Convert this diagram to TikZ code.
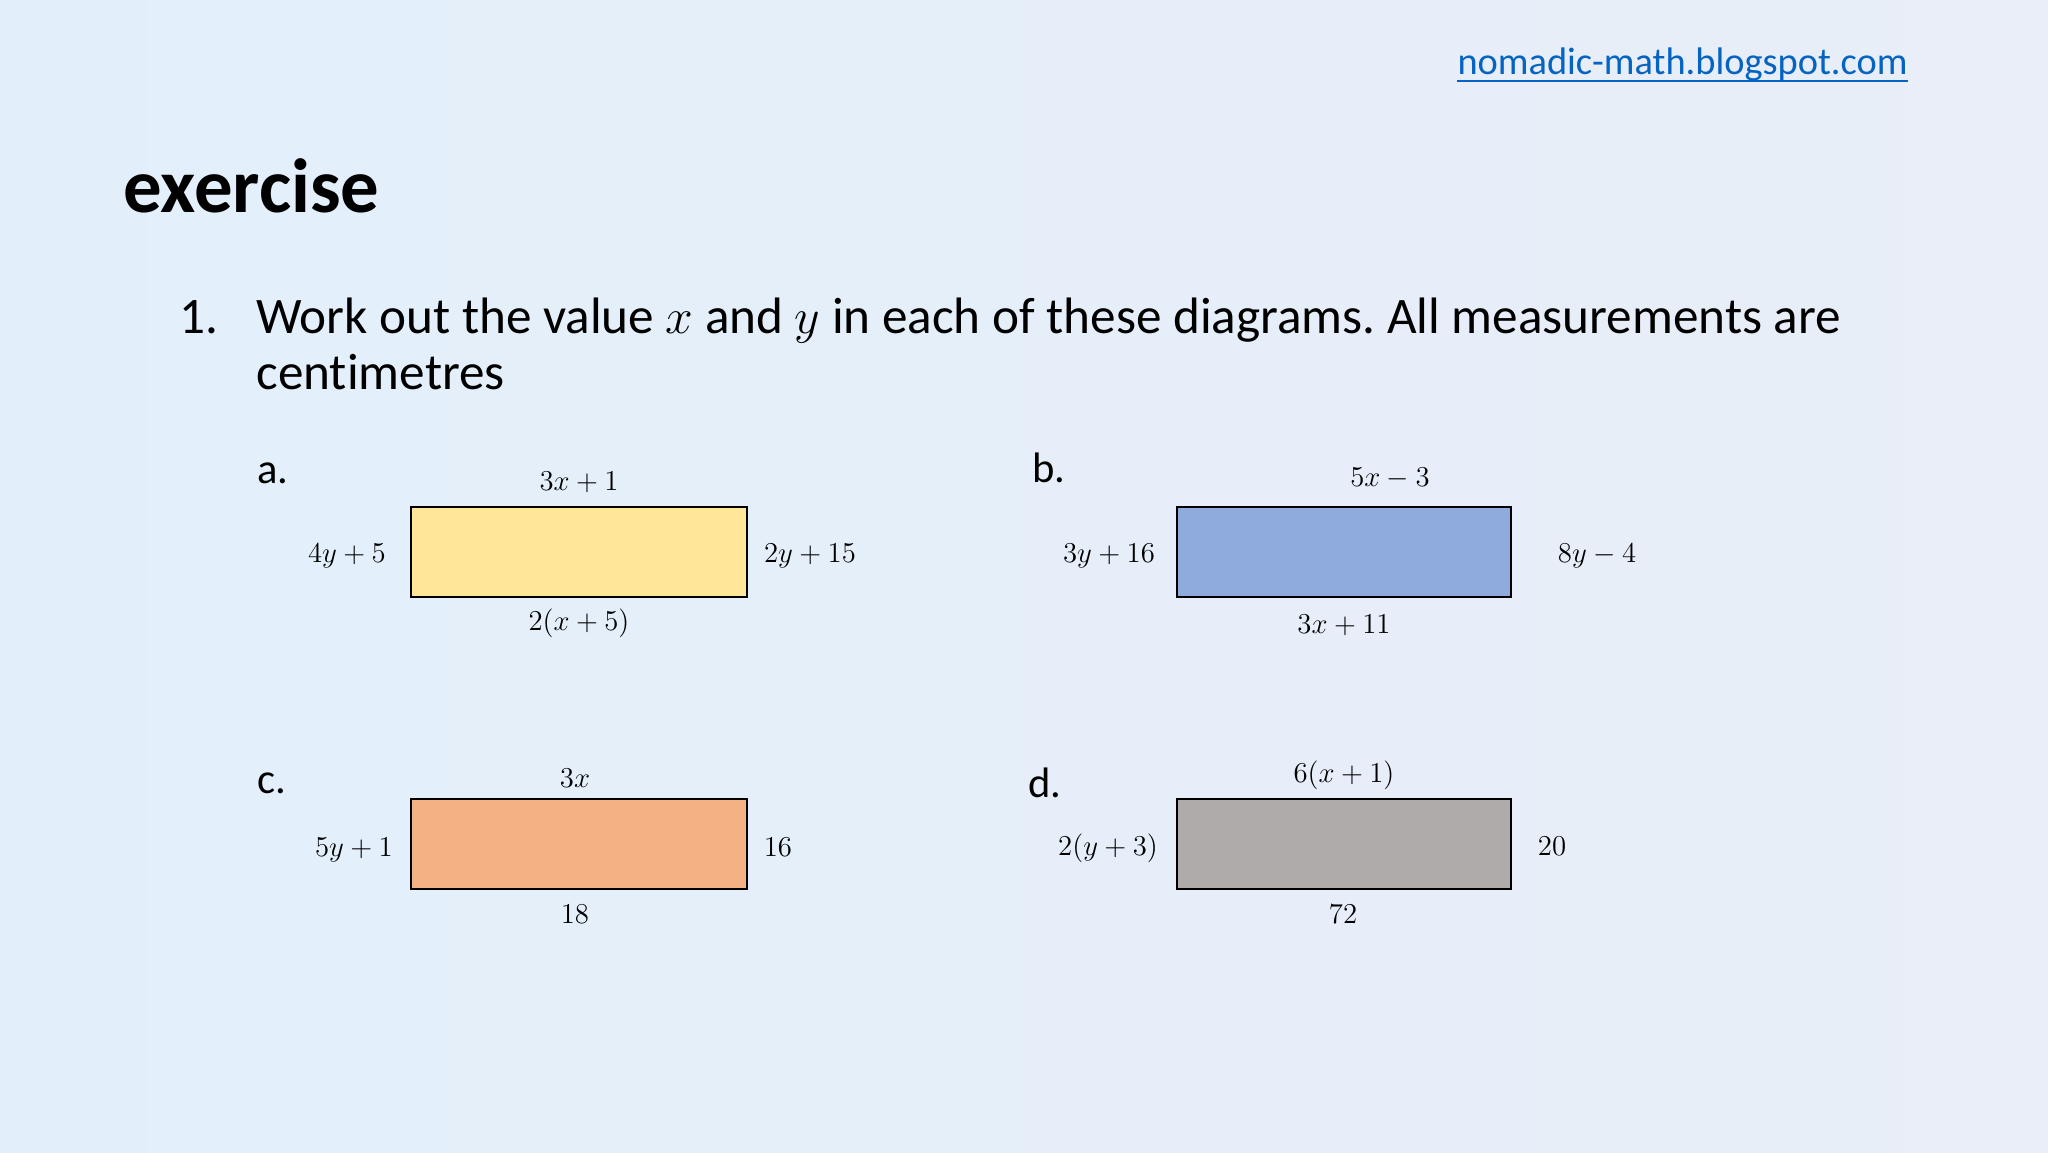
\documentclass[tikz,border=0pt]{standalone}
\usepackage{fontspec}
\setmainfont[Ligatures=NoCommon]{Carlito}
\frenchspacing
\begin{document}
\begin{tikzpicture}[x=0.5pt,y=-0.5pt,
  lbl/.style={font=\fontsize{14}{16}\selectfont, inner sep=0pt},
  part/.style={font=\fontsize{21.3}{25}\selectfont, inner sep=0pt, anchor=base west},
  body/.style={font=\fontsize{25.6}{30}\selectfont, inner sep=0pt, anchor=base west},
  rectbox/.style={draw=black, line width=1pt}]
\definecolor{bgA}{RGB}{226,239,250}
\definecolor{bgB}{RGB}{233,238,248}
\definecolor{urlc}{RGB}{5,99,193}
\definecolor{cya}{RGB}{255,230,153}
\definecolor{cyb}{RGB}{143,170,220}
\definecolor{cyc}{RGB}{244,177,131}
\definecolor{cyd}{RGB}{175,171,171}
\shade[left color=bgA, right color=bgB] (0,0) rectangle (2048,1152);
\useasboundingbox (0,0) rectangle (2048,1152);

\node[font=\fontsize{19.2}{22}\selectfont, text=urlc, inner sep=0pt, anchor=base east] (url) at (1908,74) {nomadic-math.blogspot.com};
\draw[urlc, line width=1.1pt] ([yshift=-3.6pt]url.base west) -- ([yshift=-3.6pt]url.base east);

\node[font=\fontsize{38.4}{44}\selectfont\bfseries, inner sep=0pt, anchor=base west] (title) at (123,212) {exercise};

\node[body] (num) at (179,333) {1.};
\node[body] (l1) at (256,333) {Work out the value $x$ and $y$ in each of these diagrams. All measurements are};
\node[body] (l2) at (256,389) {centimetres};

\node[part] (pa) at (257,483) {a.};
\node[part] (pb) at (1032,482) {b.};
\node[part] (pc) at (257,793) {c.};
\node[part] (pd) at (1028,797) {d.};

\draw[rectbox, fill=cya] (411,507) rectangle (747,597);
\draw[rectbox, fill=cyb] (1177,507) rectangle (1511,597);
\draw[rectbox, fill=cyc] (411,799) rectangle (747,889);
\draw[rectbox, fill=cyd] (1177,799) rectangle (1511,889);

\node[lbl] (at) at (579,482) {$3x+1$};
\node[lbl] (al) at (347,556) {$4y+5$};
\node[lbl] (ar) at (810,556) {$2y+15$};
\node[lbl] (ab) at (579,623) {$2(x+5)$};

\node[lbl] (bt) at (1390,478) {$5x-3$};
\node[lbl] (bl) at (1109,556) {$3y+16$};
\node[lbl] (br) at (1597,556) {$8y-4$};
\node[lbl] (bb) at (1344,625) {$3x+11$};

\node[lbl] (ct) at (575,778) {$3x$};
\node[lbl] (cl) at (354,850) {$5y+1$};
\node[lbl] (cr) at (778,847) {$16$};
\node[lbl] (cb) at (575,914) {$18$};

\node[lbl] (dt) at (1344,775) {$6(x+1)$};
\node[lbl] (dl) at (1108,848) {$2(y+3)$};
\node[lbl] (dr) at (1552,846) {$20$};
\node[lbl] (db) at (1343,914) {$72$};
\end{tikzpicture}
\end{document}
